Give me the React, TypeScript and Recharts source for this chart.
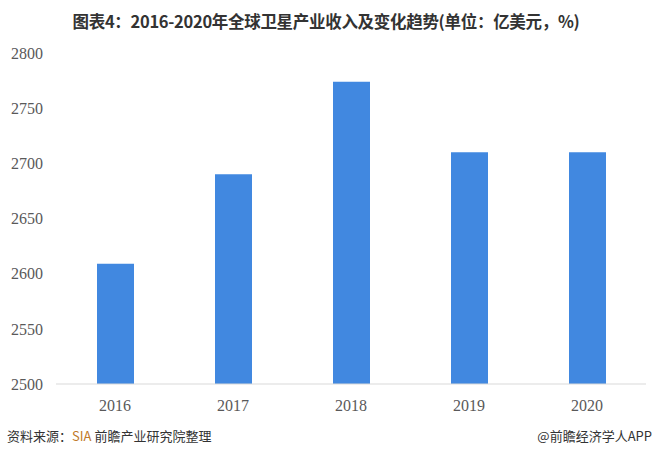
import { BarChart, Bar, XAxis, YAxis } from 'recharts';

const years = ['2016', '2017', '2018', '2019', '2020'];
const revenue = [2609, 2690, 2774, 2710, 2710];
const yTicks = [2500, 2550, 2600, 2650, 2700, 2750, 2800];

const data = years.map((year, i) => ({ year, value: revenue[i] }));

document.body.style.margin = '0';

const serif = 'Liberation Serif';
const cjk = '"Noto Sans CJK SC", "Noto Sans", sans-serif';

export default function App() {
  return (
    <div style={{ position: 'relative', width: 652, height: 455, background: '#fff' }}>
      <div
        style={{
          position: 'absolute',
          top: 9,
          left: 0,
          width: 652,
          textAlign: 'center',
          fontFamily: cjk,
          fontWeight: 'bold',
          fontSize: 16.5,
          color: '#333',
          letterSpacing: -0.3,
        }}
      >
        图表4：2016-2020年全球卫星产业收入及变化趋势(单位：亿美元，%)
      </div>
      <BarChart
        width={652}
        height={455}
        data={data}
        margin={{ top: 53, right: 6, bottom: 41, left: 0 }}
      >
        <XAxis
          dataKey="year"
          height={30}
          axisLine={{ stroke: '#d9d9d9' }}
          tickLine={false}
          tickMargin={10}
          tick={{ fontFamily: serif, fontSize: 16, fill: '#595959' }}
        />
        <YAxis
          width={56}
          domain={[2500, 2800]}
          ticks={yTicks}
          axisLine={false}
          tickLine={false}
          tickMargin={7}
          fontFamily={serif}
          tick={{ fontFamily: serif, fontSize: 16, fill: '#595959' }}
        />
        <Bar dataKey="value" fill="#4188e0" barSize={37} isAnimationActive={false} />
      </BarChart>
      <div
        style={{
          position: 'absolute',
          top: 426,
          left: 7,
          fontFamily: cjk,
          fontSize: 13,
          color: '#333',
        }}
      >
        资料来源：<span style={{ color: '#c07a2a' }}>SIA</span> 前瞻产业研究院整理
      </div>
      <div
        style={{
          position: 'absolute',
          top: 426,
          right: 0,
          fontFamily: cjk,
          fontSize: 13,
          color: '#333',
        }}
      >
        @前瞻经济学人APP
      </div>
    </div>
  );
}
